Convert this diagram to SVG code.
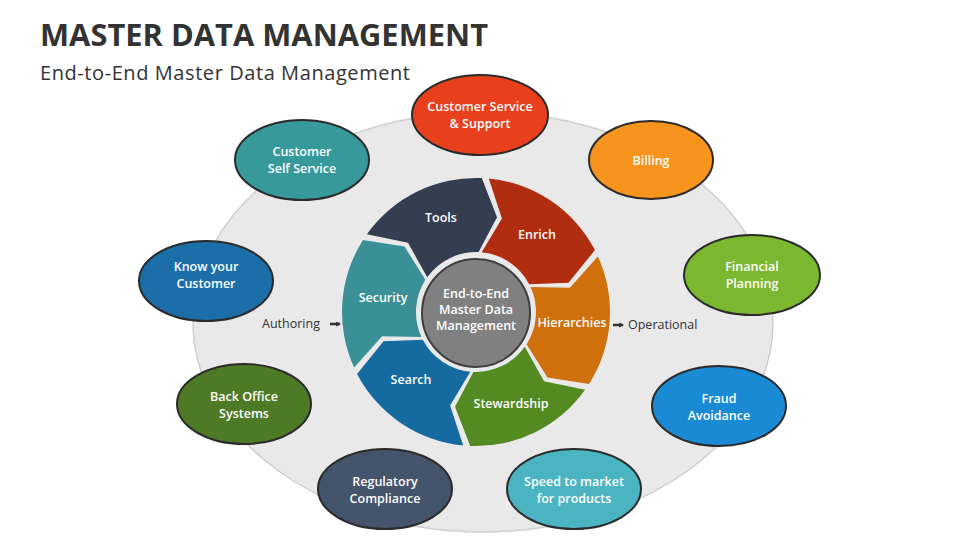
<svg xmlns="http://www.w3.org/2000/svg" width="960" height="540" viewBox="0 0 960 540">
<style>
text{font-family:"Open Sans","Liberation Sans",sans-serif}
.t{fill:#fff;font-size:12.5px;font-weight:600;text-anchor:middle}
.o{stroke:#2b2b2b;stroke-width:2}
.l{fill:#333;font-size:12.5px}
</style>
<defs><marker id="a" markerWidth="5" markerHeight="5" refX="4" refY="2.5" orient="auto" markerUnits="userSpaceOnUse"><path d="M0,0L5,2.5L0,5z" fill="#333"/></marker></defs>
<rect width="960" height="540" fill="#fff"/>
<text x="40" y="46" font-size="31" font-weight="700" fill="#333" textLength="448" lengthAdjust="spacingAndGlyphs">MASTER DATA MANAGEMENT</text>
<text x="40" y="80" font-size="20" fill="#333" textLength="370">End-to-End Master Data Management</text>
<ellipse cx="483" cy="322" rx="290" ry="210" fill="#e9e9e9" stroke="#cfcfcf" stroke-width="1.5"/>
<g id="connectors">
<text class="l" x="262" y="328">Authoring</text>
<line x1="330" y1="324" x2="340" y2="324" stroke="#333" stroke-width="2.5" marker-end="url(#a)"/>
<line x1="613" y1="325" x2="623" y2="325" stroke="#333" stroke-width="2.5" marker-end="url(#a)"/>
<text class="l" x="628" y="329">Operational</text>
</g>
<g id="tools"><path fill="#333f50" d="M366.9,234.2A134,134 0 0 1 481.8,178.1L497,217.3L478.6,252.1A60,60 0 0 0 427.2,277.2L408,242.8Z"/><text class="t" x="441" y="222">Tools</text></g>
<g id="enrich"><path fill="#b12d10" d="M488.8,178.6A134,134 0 0 1 594.9,250.1L568.5,282.8L529.2,284.3A60,60 0 0 0 481.7,252.3L501.9,218.5Z"/><text class="t" x="537" y="239">Enrich</text></g>
<g id="hier"><path fill="#d0700c" d="M597.9,256.4A134,134 0 0 1 589,384L547.5,377.5L526.6,344.2A60,60 0 0 0 530.6,287.1L569.9,287.7Z"/><text class="t" x="572" y="327">Hierarchies</text></g>
<g id="stew"><path fill="#548a22" d="M585.1,389.8A134,134 0 0 1 470.2,445.9L455,406.7L473.4,371.9A60,60 0 0 0 524.8,346.8L544,381.2Z"/><text class="t" x="511" y="408">Stewardship</text></g>
<g id="search"><path fill="#156aa0" d="M463.2,445.4A134,134 0 0 1 357.1,373.9L383.5,341.2L422.8,339.7A60,60 0 0 0 470.3,371.7L450.1,405.5Z"/><text class="t" x="411" y="384">Search</text></g>
<g id="security"><path fill="#3a9096" d="M354.1,367.6A134,134 0 0 1 363,240L404.5,246.5L425.4,279.8A60,60 0 0 0 421.4,336.9L382.1,336.3Z"/><text class="t" x="383" y="302">Security</text></g>
<g id="center"><circle cx="476" cy="313" r="54" fill="#808080" stroke="#3f3f3f" stroke-width="2"/>
<text class="t" x="476" y="298" font-size="12">End-to-End</text><text class="t" x="476" y="314" font-size="12">Master Data</text><text class="t" x="476" y="330" font-size="12">Management</text></g>
<g id="n1"><ellipse class="o" cx="480" cy="115" rx="68" ry="40" fill="#e8401c"/><text class="t" x="480" y="111">Customer Service</text><text class="t" x="480" y="128">&amp; Support</text></g>
<g id="n2"><ellipse class="o" cx="651" cy="160" rx="62" ry="39" fill="#f7941d"/><text class="t" x="651" y="165">Billing</text></g>
<g id="n3"><ellipse class="o" cx="752" cy="275" rx="68" ry="40" fill="#7cb82f"/><text class="t" x="752" y="271">Financial</text><text class="t" x="752" y="288">Planning</text></g>
<g id="n4"><ellipse class="o" cx="719" cy="406" rx="67" ry="40" fill="#1a8ad4"/><text class="t" x="719" y="403">Fraud</text><text class="t" x="719" y="420">Avoidance</text></g>
<g id="n5"><ellipse class="o" cx="574" cy="489" rx="67" ry="40" fill="#4ab5c1"/><text class="t" x="574" y="486">Speed to market</text><text class="t" x="574" y="503">for products</text></g>
<g id="n6"><ellipse class="o" cx="385" cy="489" rx="67" ry="40" fill="#44546a"/><text class="t" x="385" y="486">Regulatory</text><text class="t" x="385" y="503">Compliance</text></g>
<g id="n7"><ellipse class="o" cx="244" cy="404" rx="67" ry="40" fill="#4e7a26"/><text class="t" x="244" y="401">Back Office</text><text class="t" x="244" y="418">Systems</text></g>
<g id="n8"><ellipse class="o" cx="206" cy="281" rx="67" ry="40" fill="#1b6ea8"/><text class="t" x="206" y="271">Know your</text><text class="t" x="206" y="288">Customer</text></g>
<g id="n9"><ellipse class="o" cx="302" cy="160" rx="67" ry="40" fill="#38999a"/><text class="t" x="302" y="156">Customer</text><text class="t" x="302" y="173">Self Service</text></g>
</svg>
